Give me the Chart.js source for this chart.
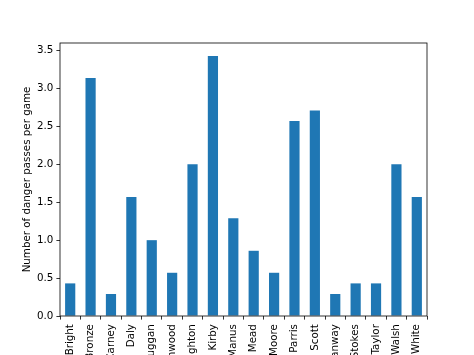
<!DOCTYPE html>
<html>
<head>
  <title>Danger passes per game</title>
  <script src="https://cdn.jsdelivr.net/npm/chart.js"></script>
  <style>
    body { margin: 0; background: #ffffff; overflow: hidden; }
    #wrap { width: 474px; height: 355px; }
  </style>
</head>
<body>
  <div id="wrap"><canvas id="myChart"></canvas></div>
  <script>
    // players along the x axis (alphabetical, as in the source plot)
    const players = ['Bright', 'Bronze', 'Carney', 'Daly', 'Duggan', 'Greenwood', 'Houghton', 'Kirby', 'McManus',
                     'Mead', 'Moore', 'Parris', 'Scott', 'Stanway', 'Stokes', 'Taylor', 'Walsh', 'White'];
    // danger passes per game
    const dangerPasses = [0.43, 3.14, 0.29, 1.57, 1.0, 0.57, 2.0, 3.43, 1.29,
                          0.86, 0.57, 2.57, 2.71, 0.29, 0.43, 0.43, 2.0, 1.57];
    const yTicks = [0, 0.5, 1.0, 1.5, 2.0, 2.5, 3.0, 3.5];
    const yMax = 3.6;

    const font = { family: 'DejaVu Sans', size: 10.3 };

    // matplotlib-like box around the axes
    const frame = {
      id: 'frame',
      afterDraw(chart) {
        const a = chart.chartArea, c = chart.ctx;
        c.save();
        c.strokeStyle = '#000';
        c.lineWidth = 0.8;
        c.strokeRect(a.left, a.top, a.right - a.left, a.bottom - a.top);
        c.restore();
      }
    };

    new Chart(document.getElementById('myChart'), {
      type: 'bar',
      data: {
        labels: players,
        datasets: [{ data: dangerPasses, backgroundColor: '#1f77b4', barPercentage: 0.5, categoryPercentage: 1.0 }]
      },
      options: {
        responsive: true,
        maintainAspectRatio: false,
        animation: false,
        layout: { padding: { top: 43, right: 47, left: 0, bottom: 0 } },
        plugins: { legend: { display: false }, tooltip: { enabled: false } },
        scales: {
          x: {
            grid: { drawOnChartArea: false, tickLength: 3.6, color: '#000', lineWidth: 0.8 },
            border: { display: false },
            ticks: { color: '#000', font: font, autoSkip: false, minRotation: 90, maxRotation: 90, padding: 4.5 },
            afterFit: s => { s.height = 39; }
          },
          y: {
            min: 0, max: yMax,
            grid: { drawOnChartArea: false, tickLength: 3.6, color: '#000', lineWidth: 0.8 },
            border: { display: false },
            ticks: { color: '#000', font: font, padding: 3, callback: v => v.toFixed(1) },
            afterBuildTicks: s => { s.ticks = yTicks.map(v => ({ value: v })); },
            title: { display: true, text: 'Number of danger passes per game', color: '#000', font: font, padding: { top: 21, bottom: 0 } },
            afterFit: s => { s.width = 60; }
          }
        }
      },
      plugins: [frame]
    });
  </script>
</body>
</html>
